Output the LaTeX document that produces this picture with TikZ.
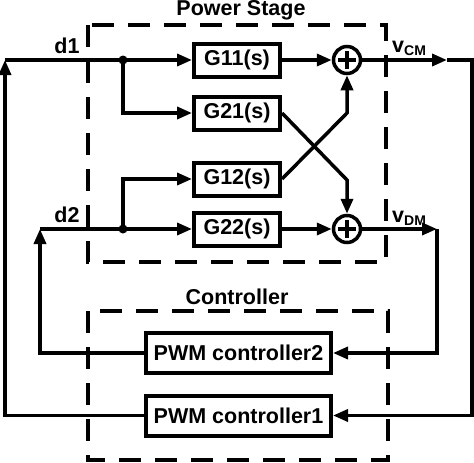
\documentclass[tikz,border=0pt]{standalone}
\usepackage{fontspec}
\setmainfont{Liberation Sans}
\usetikzlibrary{arrows.meta}
\begin{document}
\begin{tikzpicture}[x=1pt,y=-1pt,
 every node/.style={font=\fontsize{21.5}{24}\selectfont\bfseries},
 blk/.style={draw,line width=4pt,minimum width=86pt,minimum height=33pt,inner sep=0pt},
 pwm/.style={draw,line width=4pt,minimum width=185pt,minimum height=40pt,inner sep=0pt},
 sumnode/.style={draw,circle,line width=3.5pt,minimum size=27pt,inner sep=0pt},
 ln/.style={line width=3.5pt},
 arr/.style={line width=3.5pt,-{Triangle[length=15pt,width=12pt]}},
 dsh/.style={line width=4pt,dash pattern=on 22pt off 14pt},
 lbl/.style={anchor=base,inner sep=0pt}]
\useasboundingbox (0,0) rectangle (474,463);
% dashed boxes
\draw[dsh] (88,25) rectangle (386,262);
\draw[dsh] (88,311) rectangle (388,460);
% blocks
\node[blk] (g11) at (237,60) {G11(s)};
\node[blk] (g21) at (237,113) {G21(s)};
\node[blk] (g12) at (237,179) {G12(s)};
\node[blk] (g22) at (237,229) {G22(s)};
\node[sumnode] (s1) at (347,60) {};
\node[sumnode] (s2) at (347,229) {};
\foreach \s in {s1,s2}{
  \draw[ln] ([xshift=-9pt]\s.center) -- ([xshift=9pt]\s.center);
  \draw[ln] ([yshift=-9pt]\s.center) -- ([yshift=9pt]\s.center);
}
\node[pwm] (p2) at (238.5,353) {PWM controller2};
\node[pwm] (p1) at (238.5,415.5) {PWM controller1};
% coordinates
\coordinate (l1) at (5,60);
\coordinate (l2) at (40,229);
\coordinate (j1) at (123,60);
\coordinate (j2) at (123,229);
\coordinate (k1) at (347,180);
\coordinate (k2) at (347,113);
\coordinate (a1) at (447,60);
\coordinate (r1) at (472,60);
\coordinate (r2) at (437,229);
% connectors
\draw[arr] (p1.west) -| (l1);
\draw[arr] (p2.west) -| (l2);
\draw[arr] (l1) -- (g11.west);
\draw[arr] (j1) |- (g21.west);
\draw[arr] (l2) -- (g22.west);
\draw[arr] (j2) |- (g12.west);
\fill (j1) circle (4.5);
\fill (j2) circle (4.5);
\draw[arr] (g11.east) -- (s1.west);
\draw[arr] (g22.east) -- (s2.west);
\draw[arr] (g21.east) -- (k1) -- (s2.north);
\draw[arr] (g12.east) -- (k2) -- (s1.south);
\draw[arr] (s1.east) -- (a1);
\draw[arr] (a1) -- (r1) |- (p1.east);
\draw[arr] (s2.east) -- (r2);
\draw[arr] (r2) |- (p2.east);
% labels
\node[lbl] at (241,16) {Power Stage};
\node[lbl] at (237,304) {Controller};
\node[lbl] at (67,53) {d1};
\node[lbl] at (67,222) {d2};
\node[lbl,anchor=base west] at (392,52) {v\raisebox{-3pt}{\fontsize{14}{14}\selectfont CM}};
\node[lbl,anchor=base west] at (392,222) {v\raisebox{-3pt}{\fontsize{14}{14}\selectfont DM}};
\end{tikzpicture}
\end{document}
